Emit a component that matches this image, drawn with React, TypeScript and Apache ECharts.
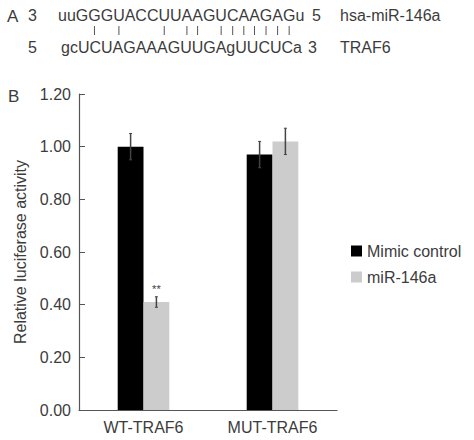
import * as echarts from 'echarts';
import { useEffect, useRef } from 'react';

// panel A: seed pairing
const MIR_SEQ = 'uuGGGUACCUUAAGUCAAGAGu';
const TARGET_SEQ = 'gcUCUAGAAAGUUGAgUUCUCa';
const PAIRED_INDEX = [3, 5, 9, 11, 12, 14, 15, 16, 17, 18, 19, 20];

// panel B: luciferase assay
const categories = ['WT-TRAF6', 'MUT-TRAF6'];
const controlValues = [1.0, 0.97];
const controlErrors = [0.05, 0.05];
const mirValues = [0.41, 1.02];
const mirErrors = [0.02, 0.05];
const mirMarks = ['**', ''];
const yTicks = [0, 0.2, 0.4, 0.6, 0.8, 1.0, 1.2];

const FONT = 'Liberation Sans, Arial, Helvetica, sans-serif';
const TEXT = '#3c3c3c';
const AXIS = '#555555';
const GREY = '#cccccc';

const measure = (s: string, size: number) => {
  const ctx = document.createElement('canvas').getContext('2d');
  if (!ctx) return s.length * size * 0.6;
  ctx.font = `${size}px "Liberation Sans", Arial, sans-serif`;
  return ctx.measureText(s).width;
};

const App = () => {
  const chartRef = useRef<HTMLDivElement>(null);

  useEffect(() => {
    if (!chartRef.current) return;
    const chart = echarts.init(chartRef.current, null, { renderer: 'svg' });

    const seqX = 58;
    // pairing ticks sit under the matching bases of the miRNA
    const pairLines = PAIRED_INDEX.map((i) => {
      const x = seqX + measure(MIR_SEQ.slice(0, i), 16) + measure(MIR_SEQ[i], 16) / 2;
      return {
        type: 'line',
        shape: { x1: x, y1: 26, x2: x, y2: 35 },
        style: { stroke: AXIS, lineWidth: 1 },
      };
    });

    const txt = (text: string, x: number, y: number, size = 16) => ({
      type: 'text',
      x,
      y,
      style: { text, fill: TEXT, fontSize: size, fontFamily: FONT, verticalAlign: 'middle' },
    });

    const errorSeries = (values: number[], errors: number[], side: number, marks?: string[]) => ({
      type: 'custom',
      silent: true,
      z: 5,
      data: values.map((v, i) => [i, v, v - errors[i], v + errors[i]]),
      renderItem: (params: any, api: any) => {
        const idx = api.value(0);
        const band = api.size([1, 0])[0];
        const barW = (band * 0.4) / 2;
        const top = api.coord([idx, api.value(3)]);
        const bottom = api.coord([idx, api.value(2)]);
        const x = top[0] + (side * barW) / 2;
        const cap = 1.5;
        const children: any[] = [
          { type: 'line', shape: { x1: x, y1: top[1], x2: x, y2: bottom[1] }, style: { stroke: '#444', lineWidth: 1.5 } },
          { type: 'line', shape: { x1: x - cap, y1: top[1], x2: x + cap, y2: top[1] }, style: { stroke: '#444', lineWidth: 1 } },
          { type: 'line', shape: { x1: x - cap, y1: bottom[1], x2: x + cap, y2: bottom[1] }, style: { stroke: '#444', lineWidth: 1 } },
        ];
        const mark = marks ? marks[params.dataIndex] : '';
        if (mark) {
          children.push({
            type: 'text',
            x,
            y: top[1] - 2,
            style: { text: mark, fill: TEXT, fontSize: 11, fontFamily: FONT, align: 'center', verticalAlign: 'bottom' },
          });
        }
        return { type: 'group', children };
      },
    });

    chart.setOption({
      animation: false,
      grid: { left: 79, right: 137, top: 94, bottom: 30, containLabel: false },
      legend: {
        orient: 'vertical',
        left: 346,
        top: 238,
        itemWidth: 11,
        itemHeight: 11,
        itemGap: 10,
        icon: 'rect',
        textStyle: { color: TEXT, fontSize: 16, fontFamily: FONT },
        data: ['Mimic control', 'miR-146a'],
      },
      xAxis: {
        type: 'category',
        data: categories,
        axisLine: { lineStyle: { color: AXIS, width: 1.2 } },
        axisTick: { inside: true, length: 7, lineStyle: { color: AXIS } },
        axisLabel: { color: TEXT, fontSize: 16, fontFamily: FONT, margin: 9 },
      },
      yAxis: {
        type: 'value',
        min: yTicks[0],
        max: yTicks[yTicks.length - 1],
        interval: 0.2,
        name: 'Relative luciferase activity',
        nameLocation: 'middle',
        nameGap: 50,
        nameTextStyle: { color: TEXT, fontSize: 16, fontFamily: FONT },
        axisLine: { show: true, lineStyle: { color: AXIS, width: 1.2 } },
        axisTick: { show: true, inside: true, length: 6, lineStyle: { color: AXIS } },
        axisLabel: { color: TEXT, fontSize: 16, fontFamily: FONT, margin: 8, formatter: (v: number) => v.toFixed(2) },
        splitLine: { show: false },
      },
      series: [
        {
          name: 'Mimic control',
          type: 'bar',
          data: controlValues,
          barGap: '0%',
          barCategoryGap: '60%',
          itemStyle: { color: '#000000' },
        },
        {
          name: 'miR-146a',
          type: 'bar',
          data: mirValues,
          itemStyle: { color: GREY },
        },
        errorSeries(controlValues, controlErrors, -1),
        errorSeries(mirValues, mirErrors, 1, mirMarks),
      ],
      graphic: [
        txt('A', 7, 16, 17),
        txt('3', 28, 15),
        txt(MIR_SEQ, seqX, 15),
        txt('5', 312, 15),
        txt('hsa-miR-146a', 340, 15),
        ...pairLines,
        txt('5', 28, 47),
        txt(TARGET_SEQ, 61, 47),
        txt('3', 308, 47),
        txt('TRAF6', 340, 47),
        txt('B', 8, 96, 17),
      ],
    });

    return () => {
      chart.dispose();
    };
  }, []);

  return <div ref={chartRef} style={{ position: 'fixed', left: 0, top: 0, width: 474, height: 440, background: '#fff' }} />;
};

export default App;
